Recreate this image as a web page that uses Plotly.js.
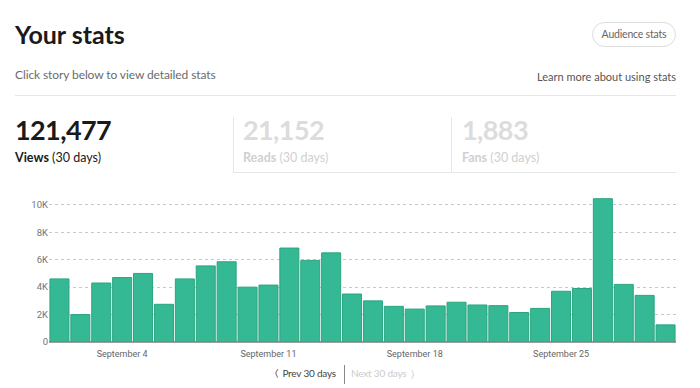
<!DOCTYPE html>
<html>
<head>
<meta charset="utf-8">
<script src="https://cdn.plot.ly/plotly-3.0.1.min.js"></script>
<style>
  html, body { margin:0; padding:0; background:#fff; width:700px; height:388px; overflow:hidden; font-family: Lato, "Noto Sans", sans-serif; }
  .abs { position:absolute; white-space:nowrap; }
  #title { left:15px; top:19px; font-size:25px; font-weight:700; color:#1a1a1a; }
  #sub { left:15px; top:67px; font-size:12px; color:#6b6b6b; letter-spacing:-0.1px; }
  #btn { left:592px; top:22px; width:82px; height:23px; border:1px solid #ddd; border-radius:13px; font-size:10.5px; color:#666; text-align:center; line-height:23px; letter-spacing:-0.2px; }
  #learn { right:24px; top:70px; font-size:11px; color:#555; }
  .hr { position:absolute; background:#e6e6e6; }
  .num { font-size:27px; font-weight:700; letter-spacing:-0.6px; line-height:34px; }
  .lab { font-size:12.5px; margin-top:3px; }
  #chart { position:absolute; left:0; top:180px; width:700px; height:200px; }
  #prev { right:364px; top:367px; font-size:10px; color:#444; letter-spacing:-0.2px; }
  #next { left:351px; top:367px; font-size:10px; color:#ccc; letter-spacing:-0.2px; }
</style>
</head>
<body>
<div id="title" class="abs">Your stats</div>
<div id="sub" class="abs">Click story below to view detailed stats</div>
<div id="btn" class="abs">Audience stats</div>
<div id="learn" class="abs">Learn more about using stats</div>
<div class="hr" style="left:15px; top:95px; width:661px; height:1px;"></div>

<div class="abs" style="left:15px; top:113px;"><div class="num" style="color:#1a1a1a;">121,477</div><div class="lab" style="color:#1a1a1a;"><b>Views</b> (30 days)</div></div>
<div class="abs" style="left:243px; top:113px;"><div class="num" style="color:#dcdcdc;">21,152</div><div class="lab" style="color:#d0d0d0;"><b>Reads</b> (30 days)</div></div>
<div class="abs" style="left:462px; top:113px;"><div class="num" style="color:#dcdcdc;">1,883</div><div class="lab" style="color:#d0d0d0;"><b>Fans</b> (30 days)</div></div>
<div class="hr" style="left:233px; top:117px; width:1px; height:55px;"></div>
<div class="hr" style="left:451px; top:117px; width:1px; height:55px;"></div>
<div class="hr" style="left:233px; top:172px; width:443px; height:1px;"></div>

<div id="chart"></div>

<div id="prev" class="abs">&#x2329;&nbsp; Prev 30 days</div>
<div class="hr" style="left:344px; top:365px; width:1px; height:19px; background:#888;"></div>
<div id="next" class="abs">Next 30 days &nbsp;&#x232A;</div>

<script>
const dates = ["2017-09-01","2017-09-02","2017-09-03","2017-09-04","2017-09-05","2017-09-06","2017-09-07","2017-09-08","2017-09-09","2017-09-10",
               "2017-09-11","2017-09-12","2017-09-13","2017-09-14","2017-09-15","2017-09-16","2017-09-17","2017-09-18","2017-09-19","2017-09-20",
               "2017-09-21","2017-09-22","2017-09-23","2017-09-24","2017-09-25","2017-09-26","2017-09-27","2017-09-28","2017-09-29","2017-09-30"];
const views = [4600,2000,4300,4700,5000,2750,4600,5550,5850,4000,
               4150,6850,5950,6500,3500,3000,2600,2400,2630,2900,
               2700,2650,2150,2450,3700,3900,10450,4200,3400,1250];
const tickDates = ["2017-09-04","2017-09-11","2017-09-18","2017-09-25"];
const tickLabels = ["September 4","September 11","September 18","September 25"];
const yTicks = [0,2000,4000,6000,8000,10000];
const yLabels = ["0","2K","4K","6K","8K","10K"];

Plotly.newPlot("chart", [{
  type: "bar",
  x: dates,
  y: views,
  marker: { color: "#35b994", line: { color: "#2aa57f", width: 1 } },
  hoverinfo: "none"
}], {
  width: 700, height: 200,
  margin: { l: 49, r: 24, t: 18, b: 38 },
  paper_bgcolor: "#fff", plot_bgcolor: "#fff",
  bargap: 0.09,
  showlegend: false,
  font: { family: "Roboto, Lato, sans-serif", size: 10, color: "#757575" },
  xaxis: {
    type: "date",
    range: ["2017-08-31 12:00", "2017-09-30 12:00"],
    tickvals: tickDates, ticktext: tickLabels,
    showgrid: false, zeroline: false, showline: false, ticks: "outside", ticklen: 3, tickcolor: "rgba(0,0,0,0)",
    tickfont: { size: 9, color: "#666" }, fixedrange: true
  },
  yaxis: {
    range: [0, 10500],
    tickvals: yTicks, ticktext: yLabels,
    showgrid: true, gridcolor: "#c8c8c8", griddash: "dot", gridwidth: 1,
    zeroline: true, zerolinecolor: "#9e9e9e", zerolinewidth: 1.5,
    showline: false, ticks: "", ticklen: 0,
    tickfont: { size: 9.5, color: "#757575" }, fixedrange: true
  }
}, { staticPlot: true, displayModeBar: false });
</script>
</body>
</html>
